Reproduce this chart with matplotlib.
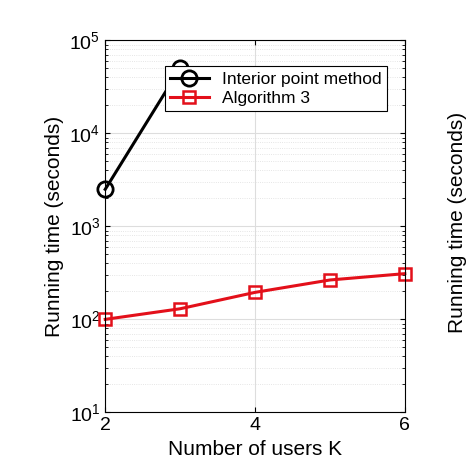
import matplotlib

matplotlib.use("Agg")
import matplotlib.pyplot as plt  # noqa: E402

plt.rcParams["font.family"] = ["Liberation Sans", "DejaVu Sans"]

users_ipm = [2, 3]
time_ipm = [2500, 50000]
users_alg = [2, 3, 4, 5, 6]
time_alg = [100, 130, 195, 265, 310]

fig = plt.figure(figsize=(4.74, 4.74), dpi=100)
ax = fig.add_axes([0.222, 0.13, 0.632, 0.785])

ax.plot(users_ipm, time_ipm, "-o", color="black", lw=2.2, ms=11,
        mfc="none", mew=2, label="Interior point method", clip_on=False)
ax.plot(users_alg, time_alg, "-s", color="#e3101a", lw=2.2, ms=8,
        mfc="none", mew=1.8, label="Algorithm 3", clip_on=False)

ax.set_yscale("log")
ax.set_xlim(2, 6)
ax.set_ylim(10, 1e5)
ax.set_xticks([2, 4, 6])
ax.grid(True, which="major", color="#dddddd", lw=0.8)
ax.grid(True, which="minor", color="#dddddd", lw=0.6, ls=":")
ax.tick_params(labelsize=14, direction="in", which="both", top=True, right=True)
for s in ax.spines.values():
    s.set_linewidth(0.8)
ax.set_xlabel("Number of users K", fontsize=15)
ax.set_ylabel("Running time (seconds)", fontsize=15)
leg = ax.legend(loc="upper left", bbox_to_anchor=(0.2, 0.93), fontsize=12.5,
                fancybox=False, edgecolor="black", framealpha=1,
                handlelength=2.2, borderpad=0.3, labelspacing=0.25,
                borderaxespad=0)
leg.get_frame().set_linewidth(0.8)

# edge of the neighbouring panel's axis label
fig.text(0.965, 0.53, "Running time (seconds)", rotation=90, fontsize=15,
         ha="center", va="center")

fig.savefig("out.png", dpi=100)
